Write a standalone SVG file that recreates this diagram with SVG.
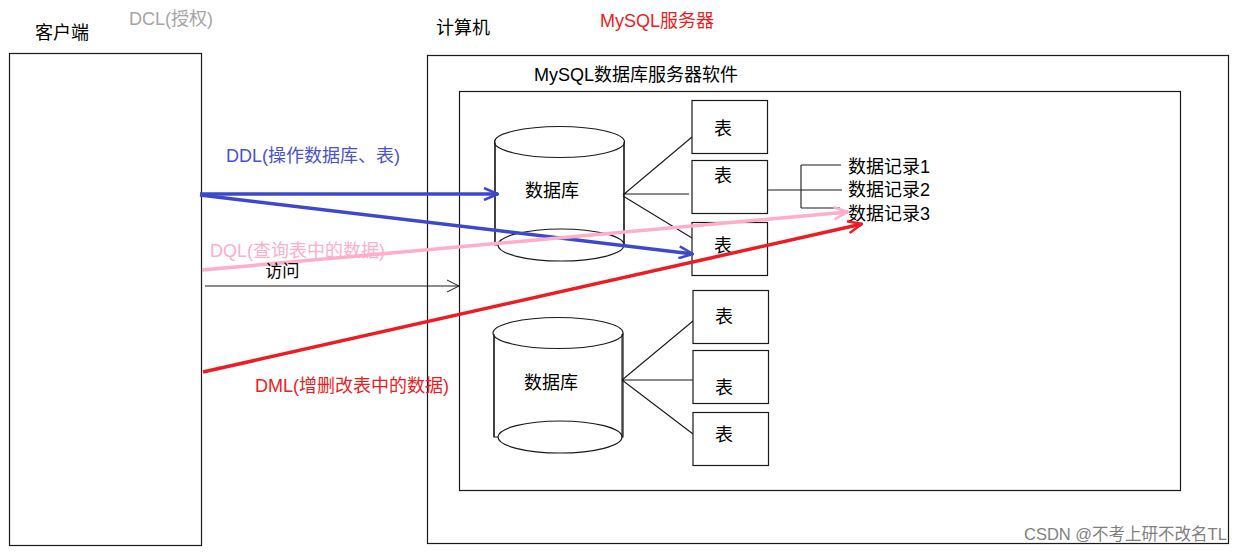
<svg xmlns="http://www.w3.org/2000/svg" width="1240" height="554" viewBox="0 0 1240 554">
<style>
text{font-family:"Liberation Sans","Noto Sans CJK SC",sans-serif;font-size:17.3px;fill:#000}
.b{fill:#fff;stroke:#1a1a1a;stroke-width:1.2}
.n{fill:none;stroke:#1a1a1a;stroke-width:1.1}
.rec{font-size:18px}
.big{font-size:18px}
</style>
<defs>
<marker id="ab" markerWidth="16" markerHeight="14" refX="15" refY="7" orient="auto" markerUnits="userSpaceOnUse"><path d="M1 1L15 7L1 13" fill="none" stroke="#3f48cc" stroke-width="2.500"/></marker>
<marker id="ap" markerWidth="16" markerHeight="14" refX="15" refY="7" orient="auto" markerUnits="userSpaceOnUse"><path d="M1 1L15 7L1 13" fill="none" stroke="#ffaec9" stroke-width="2.500"/></marker>
<marker id="ar" markerWidth="16" markerHeight="14" refX="15" refY="7" orient="auto" markerUnits="userSpaceOnUse"><path d="M1 1L15 7L1 13" fill="none" stroke="#ed1c24" stroke-width="2.500"/></marker>
<marker id="ak" markerWidth="14" markerHeight="14" refX="13" refY="7" orient="auto" markerUnits="userSpaceOnUse"><path d="M1 1L13 7L1 13" fill="none" stroke="#1a1a1a"/></marker>
</defs>
<rect width="1240" height="554" fill="#fff"/>
<g id="client"><rect class="b" x="9.500" y="53.500" width="192" height="492"/><text x="35" y="39" class="big">客户端</text></g>
<g id="computer"><rect class="b" x="427.500" y="55.500" width="801" height="488"/><text x="436" y="34" class="big">计算机</text></g>
<g id="software"><rect class="b" x="459.500" y="91.500" width="721" height="399"/><text x="534" y="81" class="big">MySQL数据库服务器软件</text></g>
<g id="db1"><path class="b" d="M495 141V245H624V141Z" stroke="none"/><ellipse class="b" cx="559.500" cy="142" rx="65" ry="15.500"/><ellipse class="b" cx="561" cy="245" rx="63" ry="16"/><path class="n" d="M495 142V245M624 142V245"/><text x="525" y="197" class="big">数据库</text></g>
<g id="db2"><path class="b" d="M494 334V437H623V334Z" stroke="none"/><ellipse class="b" cx="558" cy="333" rx="65" ry="15.500"/><ellipse class="b" cx="560" cy="437" rx="62" ry="16"/><path class="n" d="M494 334V437M622 334V437"/><text x="524" y="389" class="big">数据库</text></g>
<g id="t1"><rect class="b" x="692" y="100.500" width="75.500" height="53"/><text x="714" y="135" class="big">表</text></g>
<g id="t2"><rect class="b" x="692" y="160.500" width="75.500" height="53"/><text x="714" y="182" class="big">表</text></g>
<g id="t3"><rect class="b" x="692" y="222.500" width="75.500" height="53"/><text x="714" y="252" class="big">表</text></g>
<g id="t4"><rect class="b" x="693" y="290.500" width="75.500" height="53"/><text x="715" y="323" class="big">表</text></g>
<g id="t5"><rect class="b" x="693" y="350.500" width="75.500" height="53"/><text x="715" y="394" class="big">表</text></g>
<g id="t6"><rect class="b" x="693" y="412.500" width="75.500" height="53"/><text x="715" y="441" class="big">表</text></g>
<g id="r1"><text x="848" y="173" class="rec">数据记录1</text></g>
<g id="r2"><text x="848" y="196" class="rec">数据记录2</text></g>
<g id="r3"><text x="848" y="220" class="rec">数据记录3</text></g>
<g id="connectors">
<path class="n" d="M623 195L692 137M623 194H689M623 196L692 238M622 380L693 321M622 380L693 380M622 380L693 434M768 190H842M801 165V208M801 165H841M801 208H840"/>
<path class="n" d="M205 286H459" marker-end="url(#ak)"/>
<path d="M200 194H498" fill="none" stroke="#3f48cc" stroke-width="3.500" marker-end="url(#ab)"/>
<path d="M200 195L693 254" fill="none" stroke="#3f48cc" stroke-width="3.500" marker-end="url(#ab)"/>
<path d="M202 270L848 212" fill="none" stroke="#ffaec9" stroke-width="3.500" marker-end="url(#ap)"/>
<path d="M203 372L862 224" fill="none" stroke="#ed1c24" stroke-width="3.500" marker-end="url(#ar)"/>
</g>
<g id="labels">
<text x="129" y="25" style="fill:#a6a6a6" class="big">DCL(授权)</text>
<text x="600" y="27" style="fill:#ed1c24" class="big">MySQL服务器</text>
<text x="226" y="162" style="fill:#4a52d0" class="big">DDL(操作数据库、表)</text>
<text x="210" y="257" style="fill:#ffaec9" class="big">DQL(查询表中的数据)</text>
<text x="265" y="277">访问</text>
<text x="255" y="392" style="fill:#ed1c24" class="big">DML(增删改表中的数据)</text>
<text x="1024" y="540" style="fill:#7f7f7f;font-size:16.500px">CSDN @不考上研不改名TL</text>
</g>
</svg>
